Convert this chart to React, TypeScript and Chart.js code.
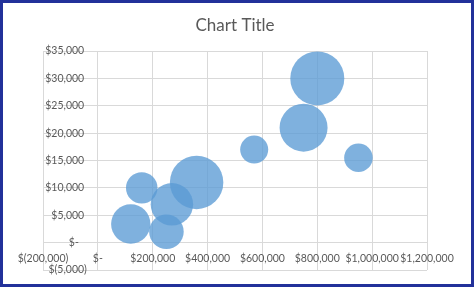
import React, { useEffect, useRef } from "react";
import { Chart, registerables } from "chart.js";

Chart.register(...registerables);

// Data (bubble: x value, y value, bubble size value)
const xValues = [120000, 160000, 270000, 250000, 360000, 570000, 750000, 800000, 950000];
const yValues = [3400, 10000, 7000, 2000, 11000, 17000, 21000, 30000, 15500];
const bubbleSizes = [53, 34, 62, 41, 98, 27, 79, 100, 28];

const xTickValues = [-200000, 0, 200000, 400000, 600000, 800000, 1000000, 1200000];
const xTickLabels = ["$(200,000)", "$-", "$200,000", "$400,000", "$600,000", "$800,000", "$1,000,000", "$1,200,000"];
const yTickValues = [-5000, 0, 5000, 10000, 15000, 20000, 25000, 30000, 35000];
const yTickLabels = ["$(5,000)", "$-   ", "$5,000 ", "$10,000 ", "$15,000 ", "$20,000 ", "$25,000 ", "$30,000 ", "$35,000 "];

const TEXT = "#595959";
const GRID = "#d9d9d9";
const FONT = "Lato";
const MAX_R = 27;
// y labels sit just left of the x = 0 axis; anchor them ~11px left of it
const Y_LABEL_ANCHOR = -40000;

export default function App() {
  const ref = useRef<HTMLCanvasElement | null>(null);

  useEffect(() => {
    document.body.style.margin = "0";
    const canvas = ref.current;
    if (!canvas) return;
    const maxSize = Math.max(...bubbleSizes);
    const data = xValues.map((x, i) => ({
      x,
      y: yValues[i],
      r: MAX_R * Math.sqrt(bubbleSizes[i] / maxSize),
    }));
    const chart = new Chart(canvas, {
      type: "bubble",
      data: {
        datasets: [
          {
            label: "Series1",
            data,
            backgroundColor: "rgba(91,155,213,0.78)",
            borderWidth: 0,
            hoverBorderWidth: 0,
          },
        ],
      },
      options: {
        responsive: false,
        animation: false,
        layout: { autoPadding: false, padding: { left: 40, right: 44, top: 0, bottom: 14 } },
        plugins: {
          legend: { display: false },
          tooltip: { enabled: false },
          title: {
            display: true,
            text: "Chart Title",
            color: TEXT,
            font: { family: FONT, size: 17, weight: "normal" },
            padding: { top: 12.5, bottom: 15.1 },
          },
        },
        scales: {
          x: {
            type: "linear",
            position: { y: 0 } as any,
            min: xTickValues[0],
            max: xTickValues[xTickValues.length - 1],
            afterBuildTicks: (scale: any) => {
              scale.ticks = xTickValues.map((v) => ({ value: v }));
            },
            ticks: {
              color: TEXT,
              font: { family: FONT, size: 10.5 },
              padding: 10,
              maxRotation: 0,
              autoSkip: false,
              callback: (v: any) => {
                const i = xTickValues.indexOf(Number(v));
                return i >= 0 ? xTickLabels[i] : "";
              },
            },
            grid: { color: GRID, drawTicks: false, lineWidth: 1 },
            border: { color: GRID },
          },
          y: {
            type: "linear",
            position: { x: Y_LABEL_ANCHOR } as any,
            min: yTickValues[0],
            max: yTickValues[yTickValues.length - 1],
            afterBuildTicks: (scale: any) => {
              scale.ticks = yTickValues.map((v) => ({ value: v }));
            },
            ticks: {
              color: TEXT,
              font: { family: FONT, size: 10.5 },
              padding: 0,
              autoSkip: false,
              callback: (v: any) => {
                const i = yTickValues.indexOf(Number(v));
                return i >= 0 ? yTickLabels[i] : "";
              },
            },
            grid: { color: GRID, drawTicks: false, lineWidth: 1 },
            border: { display: false },
          },
        },
      },
    });
    return () => chart.destroy();
  }, []);

  return (
    <div
      style={{
        position: "fixed",
        left: 0,
        top: 0,
        width: 474,
        height: 287,
        boxSizing: "border-box",
        border: "3px solid #22319a",
        background: "#ffffff",
      }}
    >
      <canvas ref={ref} width={468} height={281} style={{ display: "block", width: 468, height: 281 }} />
    </div>
  );
}
